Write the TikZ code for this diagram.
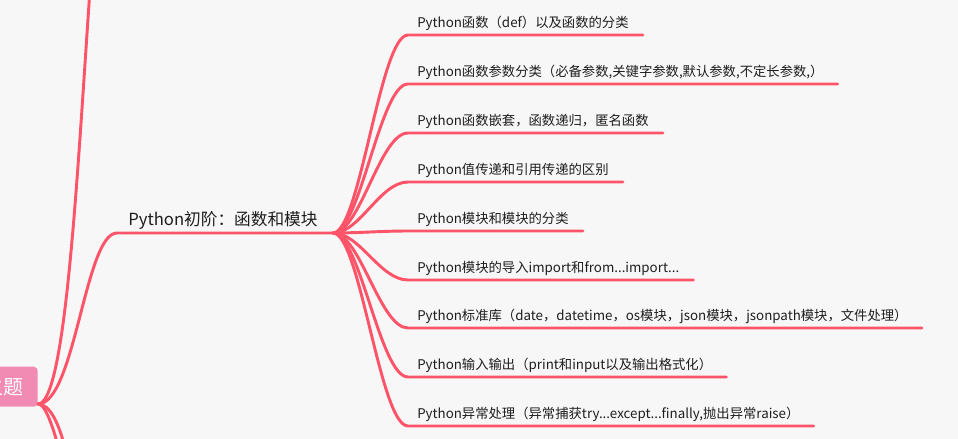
\documentclass[tikz,border=0pt]{standalone}
\usepackage{fontspec}
\setmainfont{Noto Sans CJK SC}
\usepackage{xcolor}
\usepackage{tikz}
\usetikzlibrary{calc}
\definecolor{linkred}{HTML}{FD5469}
\definecolor{rootpink}{HTML}{F18BB4}
\definecolor{paper}{HTML}{F7F7F7}
\definecolor{ink}{HTML}{1E1E1E}
\tikzset{
  branch/.style={draw=linkred, line width=2.2pt},
  leaf/.style={anchor=base west, inner sep=0pt, text=ink, font=\fontsize{10}{12}\selectfont},
  rootbox/.style={fill=rootpink, rounded corners=3pt, text=white, font=\fontsize{15}{18}\selectfont,
    minimum height=30pt, inner xsep=11pt, anchor=south east},
  every picture/.style={line cap=round, line join=round}
}

\begin{document}
\begin{tikzpicture}[x=0.75pt, y=-0.75pt]
    \fill[paper] (0,0) rectangle (958,439);
    \useasboundingbox (0,0) rectangle (958,439);
    \clip (0,0) rectangle (958,439);

    \node[rootbox] (root) at (38,407) {主题};
    \coordinate (rp) at ($(root.south east)+(0,-3)$);
    \coordinate (up) at (125,-250);
    \coordinate (dn1) at (110,560);
    \coordinate (dn2) at (125,700);

    \node[leaf, font=\fontsize{12.5}{15}\selectfont] (main) at (128,225) {Python初阶：函数和模块};
    \coordinate (mb) at (117,233);
    \coordinate (hub) at (333,233);

    % root to its branches
    \draw[branch] (rp) .. controls +(47,0) and +(-40,0) .. (up);
    \draw[branch] (rp) .. controls +(37,0) and +(-32,0) .. (mb) -- (hub);
    \draw[branch] (rp) .. controls +(20,0) and +(-35,0) .. (dn1);
    \draw[branch] (rp) .. controls +(47,0) and +(-40,0) .. (dn2);

    % leaves of the main branch
    \foreach \i/\y/\txt in {
        1/35/{Python函数（def）以及函数的分类},
        2/84/{Python函数参数分类（必备参数,关键字参数,默认参数,不定长参数,）},
        3/133/{Python函数嵌套，函数递归，匿名函数},
        4/182/{Python值传递和引用传递的区别},
        5/231/{Python模块和模块的分类},
        6/280/{Python模块的导入import和from...import...},
        7/328/{Python标准库（date，datetime，os模块，json模块，jsonpath模块，文件处理）},
        8/377/{Python输入输出（print和input以及输出格式化）},
        9/426/{Python异常处理（异常捕获try...except...finally,抛出异常raise）}} {
      \coordinate (c\i) at (408,\y);
      \node[leaf] (t\i) at (417,\y-8) {\txt};
      \draw[branch] (hub) .. controls +(27,0) and +(-28,0) .. (c\i) -- ($(t\i.east |- c\i)+(14,0)$);
    }
  \end{tikzpicture}
\end{document}
